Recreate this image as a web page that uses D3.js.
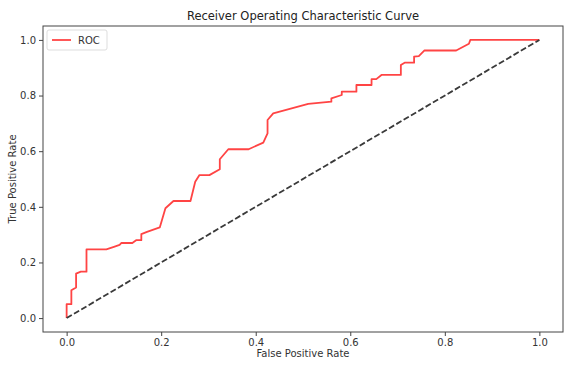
<!DOCTYPE html>
<html><head><meta charset="utf-8">
<script src="https://cdn.jsdelivr.net/npm/d3@7"></script>
<style>body{margin:0;background:#fff}svg{display:block;font-family:"DejaVu Sans",sans-serif}</style>
</head><body><svg id="c" width="582" height="375"></svg>
<script>
const fpr = [0,0,0.01,0.01,0.02,0.02,0.03,0.042,0.042,0.084,0.1,0.112,0.116,0.139,0.147,0.158,0.158,0.17,0.197,0.209,0.226,0.262,0.272,0.281,0.302,0.324,0.324,0.342,0.385,0.416,0.425,0.425,0.437,0.511,0.56,0.56,0.582,0.582,0.613,0.613,0.645,0.645,0.655,0.666,0.707,0.707,0.715,0.735,0.735,0.745,0.757,0.824,0.851,0.854,1.0];
const tpr = [0,0.05,0.05,0.10,0.11,0.16,0.167,0.167,0.247,0.247,0.256,0.263,0.27,0.27,0.28,0.28,0.302,0.31,0.326,0.395,0.421,0.421,0.49,0.514,0.514,0.535,0.571,0.607,0.607,0.631,0.664,0.712,0.736,0.77,0.778,0.79,0.802,0.814,0.814,0.838,0.838,0.859,0.859,0.874,0.874,0.91,0.918,0.918,0.94,0.942,0.962,0.962,0.986,1.0,1.0];
const diagX = [0,1];
const diagY = [0,1];
const ticks = [0,0.2,0.4,0.6,0.8,1.0];
const title = "Receiver Operating Characteristic Curve";
const xLabel = "False Positive Rate";
const yLabel = "True Positive Rate";
const legendLabel = "ROC";

const svg = d3.select("#c");
const L=43, R=563, T=26, B=332;
const x = d3.scaleLinear().domain([-0.05,1.05]).range([L,R]);
const y = d3.scaleLinear().domain([-0.05,1.05]).range([B,T]);

const line = d3.line().x(d=>x(d[0])).y(d=>y(d[1]));
svg.append("path").datum(fpr.map((v,i)=>[v,tpr[i]]))
  .attr("d",line).attr("fill","none").attr("stroke","#ff4444").attr("stroke-width",1.8).attr("stroke-linejoin","round");
svg.append("path").datum(diagX.map((v,i)=>[v,diagY[i]]))
  .attr("d",line).attr("fill","none").attr("stroke","#3a3a3a").attr("stroke-width",1.8).attr("stroke-dasharray","6,2.5");

const fmt = d3.format(".1f");
const xa = svg.append("g").attr("transform",`translate(0,${B})`).call(d3.axisBottom(x).tickValues(ticks).tickFormat(fmt).tickSize(4).tickPadding(3));
const ya = svg.append("g").attr("transform",`translate(${L},0)`).call(d3.axisLeft(y).tickValues(ticks).tickFormat(fmt).tickSize(4).tickPadding(3));
[xa,ya].forEach(a=>{a.select(".domain").remove();a.selectAll("line").attr("stroke","#444");a.selectAll("text").attr("fill","#333").style("font-size","10px").style("font-family","DejaVu Sans");});

svg.append("rect").attr("x",L).attr("y",T).attr("width",R-L).attr("height",B-T).attr("fill","none").attr("stroke","#444").attr("stroke-width",1);

svg.append("text").attr("x",(L+R)/2).attr("y",20).attr("text-anchor","middle").attr("fill","#222").style("font-size","11.5px").text(title);
svg.append("text").attr("x",(L+R)/2).attr("y",357).attr("text-anchor","middle").attr("fill","#333").style("font-size","10px").text(xLabel);
svg.append("text").attr("transform",`translate(16,${(T+B)/2}) rotate(-90)`).attr("text-anchor","middle").attr("fill","#333").style("font-size","10px").text(yLabel);

const lg = svg.append("g");
lg.append("rect").attr("x",47).attr("y",30).attr("width",60).attr("height",20).attr("rx",2).attr("fill","#fff").attr("stroke","#ddd");
lg.append("line").attr("x1",52).attr("x2",71).attr("y1",40).attr("y2",40).attr("stroke","#ff4444").attr("stroke-width",1.8);
lg.append("text").attr("x",78).attr("y",44).attr("fill","#333").style("font-size","10px").text(legendLabel);
</script></body></html>
